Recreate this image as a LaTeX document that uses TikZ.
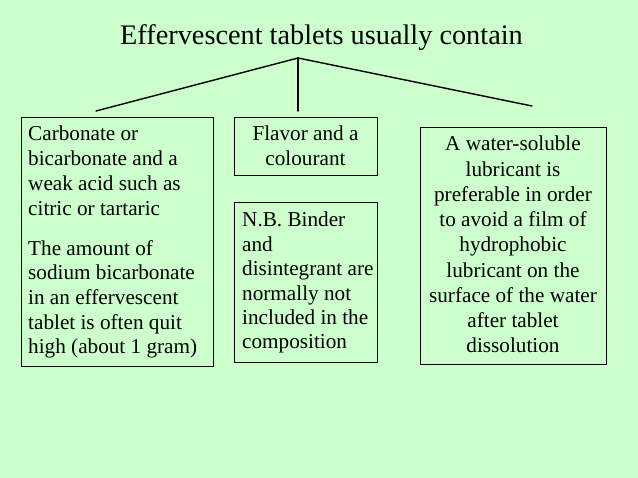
\documentclass[tikz,border=0pt]{standalone}
\usepackage{fontspec}
\setmainfont{Liberation Serif}
\definecolor{bgc}{RGB}{204,255,204}
\begin{document}
\begin{tikzpicture}[x=1pt,y=-1pt,
  box/.style={draw=black,line width=1.3pt,inner sep=0pt,anchor=north west},
  txt/.style={inner sep=0pt,font=\fontsize{21.2pt}{24.7pt}\selectfont},
  link/.style={line width=1.4pt,line cap=round}]
\fill[bgc] (0,0) rectangle (638,478);
\useasboundingbox (0,0) rectangle (638,478);
% title
\node[inner sep=0pt,anchor=base,font=\fontsize{28.3pt}{34pt}\selectfont] (title) at (321.5,45) {Effervescent tablets usually contain};
% connector points
\coordinate (apex) at (298,58);
\coordinate (lend) at (96,111);
\coordinate (mend) at (298,111);
\coordinate (rend) at (532,106);
\draw[link] (apex) -- (lend);
\draw[link] (apex) -- (mend);
\draw[link] (apex) -- (rend);
% boxes
\node[box,minimum width=192pt,minimum height=249pt] (lbox) at (21,117) {};
\node[box,minimum width=143pt,minimum height=58pt] (mtbox) at (234,117) {};
\node[box,minimum width=143pt,minimum height=160pt] (mbbox) at (234,202) {};
\node[box,minimum width=186pt,minimum height=237pt] (rbox) at (420,127) {};
% texts
\node[txt,anchor=base west,text width=190pt,align=flush left] (ltext) at (28,141)
  {Carbonate or\\bicarbonate and a\\weak acid such as\\citric or tartaric\\[15.3pt]The amount of\\sodium bicarbonate\\in an effervescent\\tablet is often quit\\high (about 1 gram)};
\node[txt,anchor=base,text width=140pt,align=flush center] (mttext) at (305.5,141)
  {Flavor and a\\colourant};
\node[txt,anchor=base west,text width=140pt,align=flush left,font=\fontsize{21.2pt}{24.4pt}\selectfont] (mbtext) at (242,227)
  {N.B. Binder\\and\\disintegrant are\\normally not\\included in the\\composition};
\node[txt,anchor=base,text width=186pt,align=flush center,font=\fontsize{21.2pt}{25.25pt}\selectfont] (rtext) at (513,151)
  {A water-soluble\\lubricant is\\preferable in order\\to avoid a film of\\hydrophobic\\lubricant on the\\surface of the water\\after tablet\\dissolution};
\end{tikzpicture}
\end{document}
